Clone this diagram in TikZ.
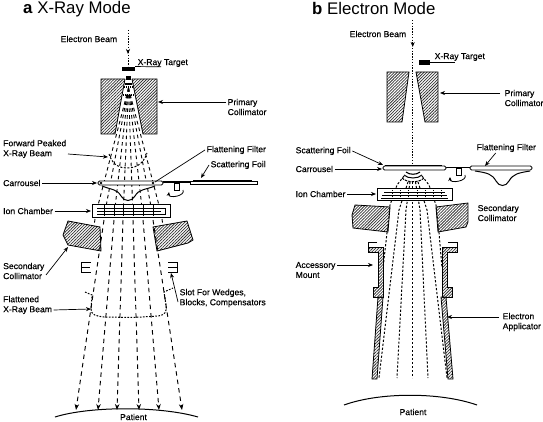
\documentclass[tikz,border=0pt]{standalone}
\usepackage{fontspec}
\setmainfont{Liberation Sans}
\newfontfamily\lblfont[FakeBold=0.35]{Liberation Sans}
\usetikzlibrary{arrows.meta,patterns.meta}
\tikzset{
  lbl/.style={anchor=west,align=left,inner sep=1.5pt,font=\lblfont\fontsize{8.6}{10}\selectfont},
  ttl/.style={anchor=west,inner sep=0pt,font=\fontsize{16.8}{18}\selectfont},
  lead/.style={line width=.7pt,-{Stealth[length=5pt,width=4pt]}},
  plain/.style={line width=.7pt},
  hatchfill/.style={pattern={Lines[angle=45,distance=2.1pt,line width=.75pt]},pattern color=black!80},
  hatchbox/.style={draw,line width=.8pt,hatchfill},
  ray/.style={line width=.9pt,dash pattern=on 3.6pt off 3.2pt},
  rayb/.style={line width=.95pt,dash pattern=on 4.5pt off 4pt,-{Stealth[length=6pt,width=4.5pt]}},
  dots/.style={line width=1pt,dash pattern=on 1.4pt off 1.4pt},
  erays/.style={line width=1pt,dash pattern=on 2.2pt off 1.8pt},
  part/.style={draw,line width=.8pt,fill=white},
  solid block/.style={fill=black,draw=none},
}
\begin{document}
\begin{tikzpicture}[x=1pt,y=-1pt]
\useasboundingbox (0,0) rectangle (543,422);
\fill[white] (0,0) rectangle (543,422);

%%%%%%%%%%%%%%% PANEL A %%%%%%%%%%%%%%%
\node[ttl] (ta) at (23,9) {\textbf{a} X-Ray Mode};

% labels
\node[lbl] (aEB) at (59,39) {Electron Beam};
\node[lbl] (aXT) at (136,63) {X-Ray Target};
\node[lbl] (aPC) at (226,107) {Primary\\Collimator};
\node[lbl] (aFP) at (1.5,149) {Forward Peaked\\X-Ray Beam};
\node[lbl] (aFF) at (205,150) {Flattening Filter};
\node[lbl] (aSF) at (209,165) {Scattering Foil};
\node[lbl] (aCA) at (1.5,183) {Carrousel};
\node[lbl] (aIC) at (1.5,211) {Ion Chamber};
\node[lbl] (aSC) at (1.5,271) {Secondary\\Collimator};
\node[lbl] (aSL) at (178,298) {Slot For Wedges,\\Blocks, Compensators};
\node[lbl] (aFB) at (1.5,305) {Flattened\\X-Ray Beam};
\node[lbl,anchor=center] (aPA) at (133.5,417) {Patient};

% electron beam and target
\coordinate (aB0) at (128,30);
\coordinate (aB1) at (128,52);
\coordinate (aB2) at (128,66);
\draw[dots] (aB0) -- (aB1);
\draw[lead] (aB1) -- ++(0,2);
\draw[dots] (aB1) -- (aB2);
\node[solid block,minimum width=13pt,minimum height=4.5pt,inner sep=0pt] (aT) at (128.5,69) {};
\draw[plain] (aT.north east) -- (161,66.8);

% primary collimator
\path[hatchfill] (125,79) -- (101,79) -- (101,134) -- (115,134) -- cycle;
\path[hatchfill] (132,79) -- (157,79) -- (157,134) -- (143,134) -- cycle;
\draw[line width=.8pt] (125,79) -- (101,79) -- (101,134) -- (115,134) -- (125,79);
\draw[line width=.8pt] (132,79) -- (157,79) -- (157,134) -- (143,134) -- (132,79);
\coordinate (aPCt) at (158,102);
\draw[lead] (aPC.west |- aPCt) -- (aPCt);

% top of X-ray fan
\fill (126,76) rectangle (131,80);
\draw[line width=1.1pt] (125,84) -- (132,84);
\draw[line width=1.2pt,dash pattern=on 1.2pt off .8pt] (124,87) -- (133,87);
\draw[line width=1.2pt,dash pattern=on 1.2pt off .8pt] (123,95) -- (134,95);

% fan rays
\coordinate (aS) at (128.5,88);
\foreach \x in {95,104,114,123,133,143,153,162}
  \draw[ray] (aS) -- (\x,217);
\draw[dots,dash pattern=on 2pt off 1.6pt] (109,154) .. controls (113,166) and (120,168) .. (127,168) .. controls (135,168) and (143,165) .. (147,153);

% carrousel
\draw[line width=1.8pt] (163,182) -- (190,182);
\draw[part,rounded corners=1.5pt] (98,181) rectangle (163,185);
\draw[line width=.8pt,fill=white] (190,181) rectangle (257,184.5);
\draw[line width=1.3pt] (193,180.3) -- (252,180.3);
\draw[line width=.8pt,fill=white] (174,183) rectangle (179,190);
\draw[line width=.8pt,-{Stealth[length=4pt,width=3.5pt]}] (183,190) .. controls (186,196) and (168,199) .. (169,192);
% flattening filter (a)
\draw[line width=1pt] (102,186) .. controls (112,190) and (117,189) .. (121,196) .. controls (124,202) and (132,202) .. (135,196) .. controls (139,189) and (145,190) .. (155,186);
\fill (101,183) circle (1.3pt) (153,183) circle (1.3pt);

% ion chamber
\draw[part] (92,204) rectangle (170,217);
\draw[line width=.8pt] (97,208) -- (165,208) -- (165,214) -- (97,214);
\draw[line width=.8pt] (97,211) -- (161,211);
\foreach \x in {104,114,123,133,143,153}
  \draw[line width=.7pt] (\x,205) -- (\x,216);

% secondary collimator
\path[hatchbox] (68,221) -- (100,227) -- (101,251) -- (68,245) -- (63,235) -- cycle;
\path[hatchbox] (153,227) -- (187,221) -- (193,240) -- (188,243) -- (157,251) -- cycle;

% leaders to the left parts
\coordinate (aCAt) at (97,183);
\draw[lead] (aCA.east) -- (aCAt);
\coordinate (aICt) at (91,211);
\draw[lead] (aIC.east) -- (aICt);
\coordinate (aSCt) at (68,247);
\draw[lead] ([yshift=-4pt]aSC.east) -- (aSCt);
\coordinate (aFPt) at (108,157);
\draw[lead] ([yshift=-5pt]aFP.east) -- (aFPt);
\coordinate (aFFt) at (155,182);
\draw[plain] (aFF.west) -- (aFFt);
\coordinate (aSFt) at (201,178);
\draw[lead] (aSF.west) -- (aSFt);

% slots
\draw[line width=.9pt] (91,262) -- (81,262) -- (81,272) -- (91,272) (81,267) -- (90,267);
\draw[line width=.9pt] (168,262) -- (177,262) -- (177,272) -- (168,272) (168,267) -- (177,267);
\coordinate (aSLt) at (171,273);
\draw[lead] ([yshift=-4pt]aSL.west) -- (aSLt);

% lower rays
\foreach \xa/\xb in {104/76,114/98,123/117,133/139,143/159,153/182}
  \draw[rayb] (\xa,220) -- (\xb,410);
\draw[ray] (95,219) -- (94,226);
\draw[ray] (162,219) -- (163,226);

% flattened profile
\draw[dots,dash pattern=on 1.7pt off 1.4pt] (85,292) -- (92,295) .. controls (92,300) and (91,305) .. (91,309) .. controls (91,315) and (96,316) .. (104,317) -- (133,317.5) -- (158,316) .. controls (165,315) and (167,312) .. (166,305) -- (164,292) -- (173,288);
\coordinate (aFBt) at (91,309);
\draw[lead] ([yshift=-5pt]aFB.east) -- (aFBt);

% patient
\draw[line width=1pt] (55,417) .. controls (90,406) and (160,406) .. (198,417);

%%%%%%%%%%%%%%% PANEL B %%%%%%%%%%%%%%%
\node[ttl] (tb) at (312,8) {\textbf{b} Electron Mode};

\node[lbl] (bEB) at (348,34) {Electron Beam};
\node[lbl] (bXT) at (433,57) {X-Ray Target};
\node[lbl] (bPC) at (503,98) {Primary\\Collimator};
\node[lbl] (bSF) at (294,151) {Scattering Foil};
\node[lbl] (bFF) at (475,148) {Flattening Filter};
\node[lbl] (bCA) at (294,169) {Carrousel};
\node[lbl] (bIC) at (294,194) {Ion Chamber};
\node[lbl] (bSC) at (476,213) {Secondary\\Collimator};
\node[lbl] (bAM) at (294,270) {Accessory\\Mount};
\node[lbl] (bEA) at (501,322) {Electron\\Applicator};
\node[lbl,anchor=center] (bPA) at (413,412) {Patient};

% electron beam
\coordinate (bB0) at (412.7,20);
\coordinate (bB1) at (412.7,45);
\coordinate (bB2) at (412.7,165);
\draw[dots] (bB0) -- (bB1);
\draw[lead] (bB1) -- ++(0,2);
\draw[dots] (bB1) -- (bB2);

% target
\node[solid block,minimum width=11pt,minimum height=4.5pt,inner sep=0pt] (bT) at (424.5,62.5) {};
\draw[plain] (bT.east) -- (455,62.5);

% primary collimator
\path[hatchbox] (387,72) -- (409,72) -- (402,122) -- (387,122) -- cycle;
\path[hatchbox] (416,72) -- (438,72) -- (438,122) -- (425,122) -- cycle;
\coordinate (bPCt) at (440,93);
\draw[lead] ([yshift=5pt]bPC.west) ++(-3,0) -- (bPCt);

% carrousel
\draw[line width=1.8pt] (446,167.5) -- (470,167.5);
\draw[part,rounded corners=1.5pt] (383,166) rectangle (446,170);
\draw[line width=1.3pt] (385,165.4) -- (442,165.4);
\draw[part,rounded corners=1.5pt] (470,166) rectangle (532,170);
\draw[line width=.8pt,fill=white] (456,168) rectangle (461,175);
\draw[line width=.8pt,-{Stealth[length=4pt,width=3.5pt]}] (465,175) .. controls (468,181) and (450,184) .. (450,177);
% filter (b)
\draw[line width=1pt] (475,171) .. controls (488,173) and (492,174) .. (496,181) .. controls (499,187) and (506,187) .. (509,181) .. controls (513,174) and (518,173) .. (530,171);

% scattering arcs
\draw[line width=1.1pt] (406,172) .. controls (409,175) and (417,175) .. (420,172);
\draw[line width=1pt] (404,175) .. controls (408,179) and (418,179) .. (422,175);
\draw[line width=1pt,dash pattern=on 2.5pt off 1pt] (402,178) .. controls (407,183) and (419,183) .. (424,178);

% fan rays
\draw[erays] (404,176) -- (397,185) -- (390,205) -- (387,233) -- (383,268);
\draw[erays] (408,182) -- (399,210) -- (379,378);
\draw[erays] (410,182) -- (406,210) -- (397,378);
\draw[erays] (412.7,182) -- (412.7,378);
\draw[erays] (415.5,182) -- (420,210) -- (428,378);
\draw[erays] (418,182) -- (427,210) -- (447,378);
\draw[erays] (422,176) -- (429,185) -- (436,205) -- (439,233) -- (442,268);

% ion chamber
\draw[part] (377,188) rectangle (452,200);
\draw[line width=.7pt] (384,192) -- (445,192);
\draw[line width=.7pt] (382,195) -- (447,195);
\draw[line width=.7pt] (381,198) -- (448,198);
\foreach \x in {392,400,408,417,425,433,441}
  \draw[line width=.7pt,dash pattern=on 1.5pt off 1pt] (\x,190) -- (\x,199);

% secondary collimator
\path[hatchbox] (355,205) -- (390,207) -- (388,232) -- (353,228) -- (352,215) -- cycle;
\path[hatchbox] (436,207) -- (468,203) -- (468,222) -- (466,227) -- (438,232) -- cycle;

% accessory mount and applicator
\draw[line width=.8pt] (377,242) -- (368,242) -- (368,247);
\draw[line width=.8pt] (448,242) -- (457,242) -- (457,247);
\path[hatchbox] (368,247) -- (383,247) -- (383,297) -- (373,297) -- (373,287) -- (378,287) -- (378,252) -- (368,252) -- cycle;
\path[hatchbox] (457,247) -- (442,247) -- (442,297) -- (452,297) -- (452,287) -- (447,287) -- (447,252) -- (457,252) -- cycle;
\path[hatchbox] (378,297) -- (383,297) -- (377,379) -- (372,379) -- cycle;
\path[hatchbox] (441,297) -- (446,297) -- (453,379) -- (448,379) -- cycle;

% leaders
\coordinate (bSFt) at (383,165);
\draw[lead] (bSF.east) -- (bSFt);
\coordinate (bFFt) at (485,166);
\draw[lead] ([xshift=-42pt,yshift=-5pt]bFF.east) -- (bFFt);
\coordinate (bCAt) at (382,169);
\draw[lead] (bCA.east) -- (bCAt);
\coordinate (bICt) at (376,194);
\draw[lead] (bIC.east) -- (bICt);
\coordinate (bAMt) at (373,265);
\draw[lead] ([yshift=5pt]bAM.east) -- (bAMt);
\coordinate (bEAt) at (447,317);
\draw[lead] ([yshift=5pt]bEA.west) ++(-2,0) -- (bEAt);

% patient
\draw[line width=1pt] (344,405) .. controls (380,392) and (440,392) .. (477,405);
\end{tikzpicture}
\end{document}
